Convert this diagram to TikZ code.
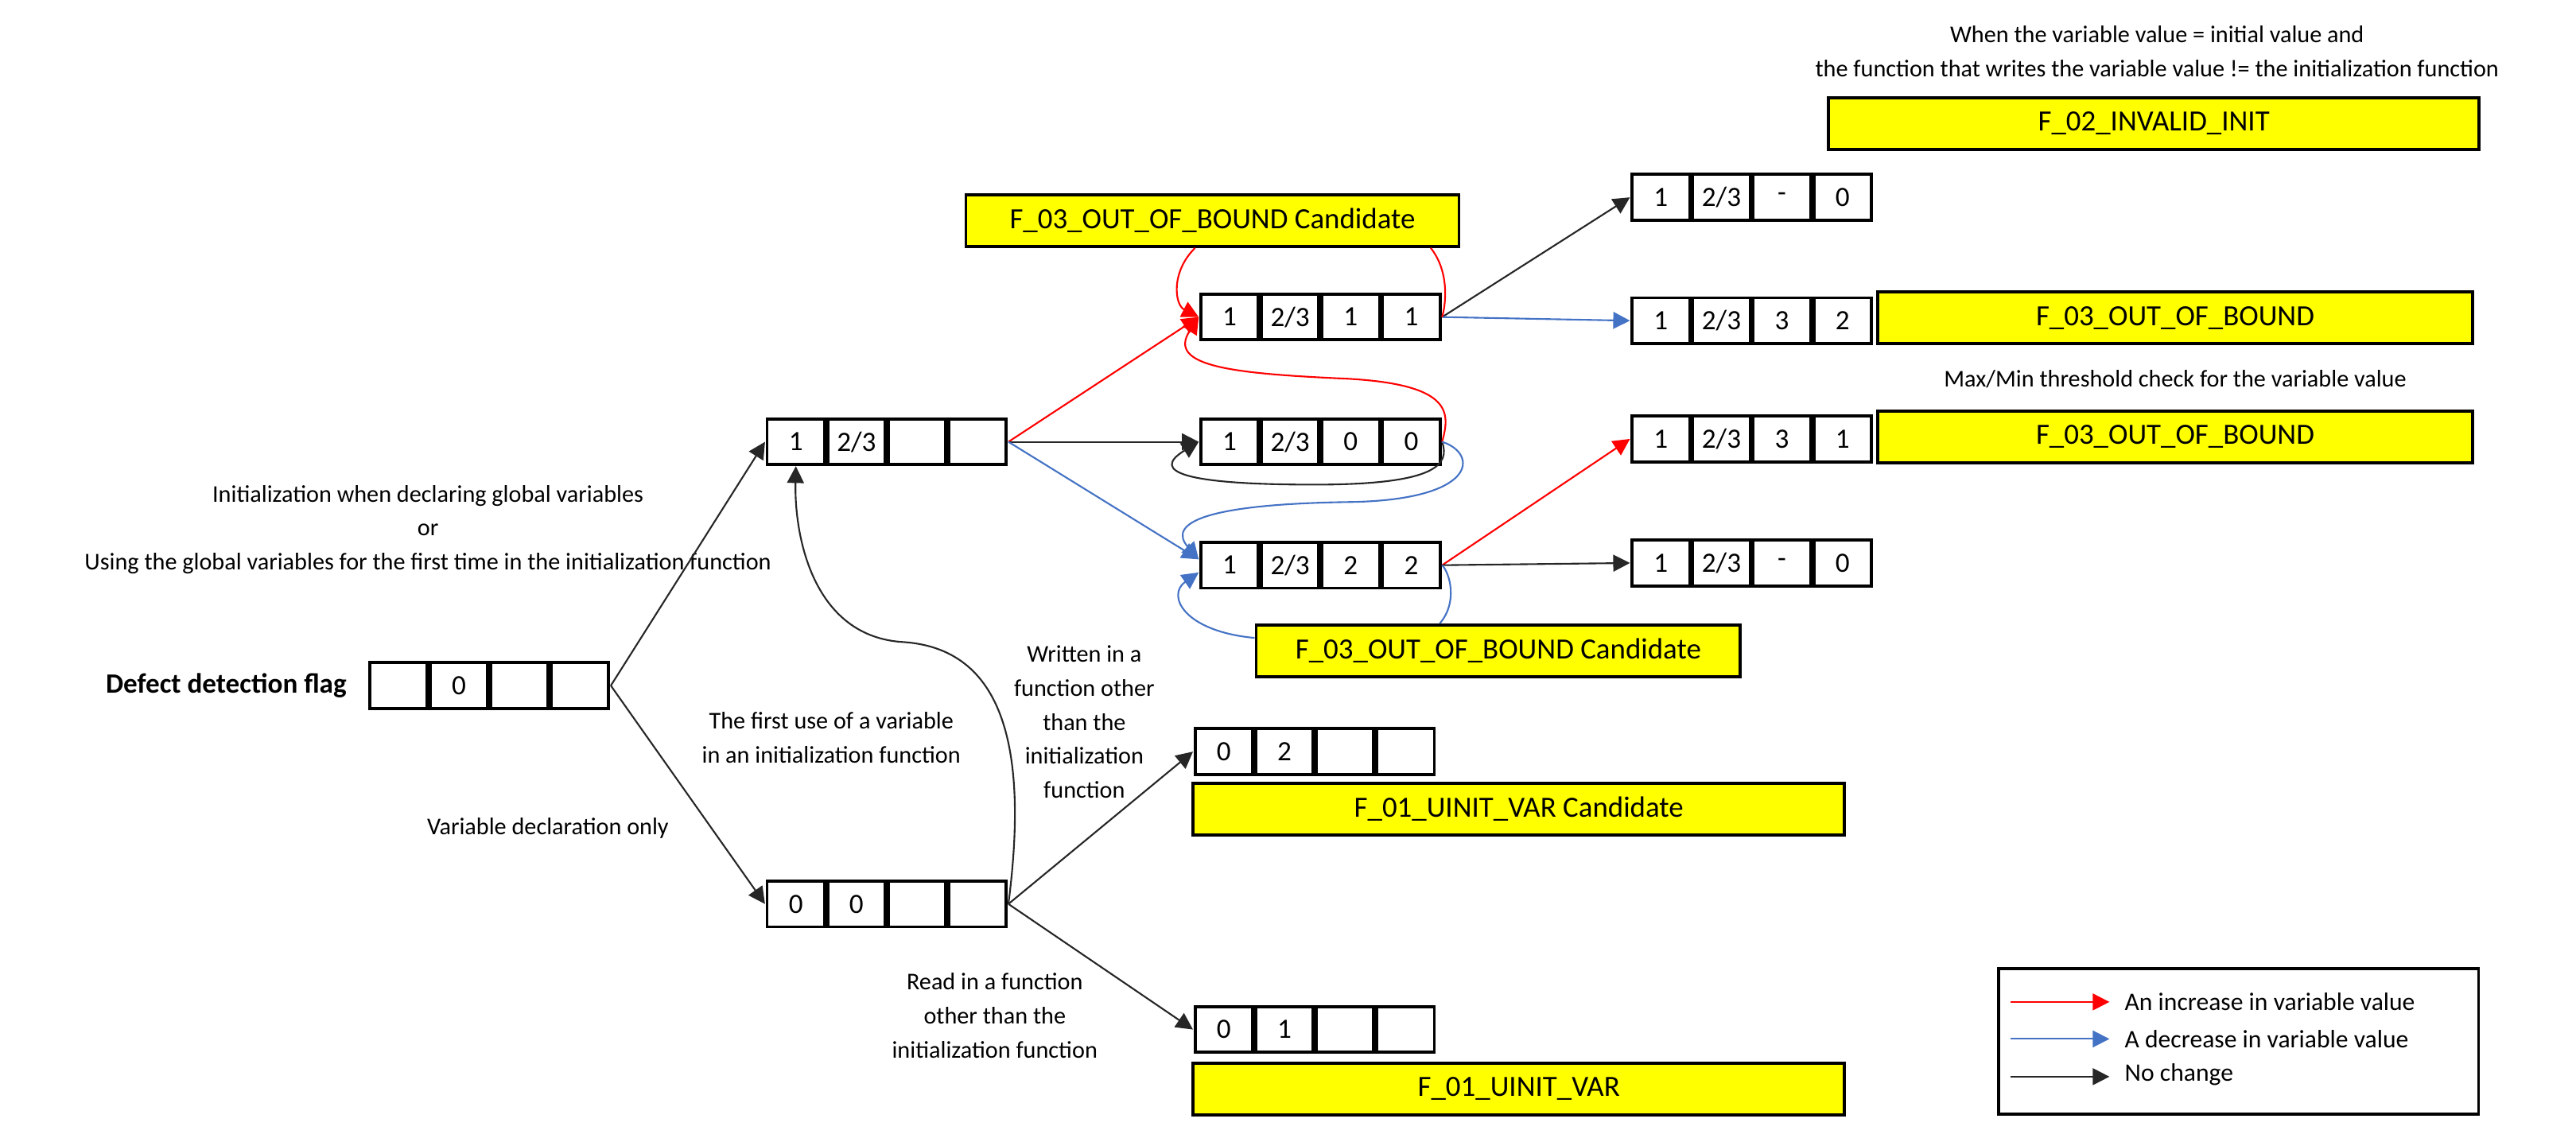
\documentclass[tikz,border=0pt]{standalone}
\usepackage{fontspec}
\setmainfont{Carlito}
\usetikzlibrary{arrows.meta,calc,fit}
\definecolor{myred}{RGB}{255,0,0}
\definecolor{myblue}{RGB}{68,114,196}
\definecolor{myyel}{RGB}{255,255,0}
\tikzset{
 cell/.style={draw,line width=1.1pt,minimum width=0.723cm,minimum height=0.575cm,inner sep=0pt,anchor=west,font=\fontsize{10}{12}\selectfont},
 ybox/.style={draw,line width=1.1pt,fill=myyel,minimum height=0.65cm,inner sep=0pt,font=\fontsize{10.5}{12}\selectfont},
 lbl/.style={align=center,font=\fontsize{8.6}{12.2}\selectfont,inner sep=0pt},
 tip/.style={-{Triangle[length=6pt,width=6pt]}},
 blk/.style={tip,line width=0.6pt,black!85},
 red/.style={tip,line width=0.6pt,myred},
 blu/.style={tip,line width=0.6pt,myblue},
 rl/.style={line width=0.6pt,myred},
 bl/.style={line width=0.6pt,myblue},
}
\newcommand\frow[6]{%
 \node[cell] (#1a) at (#2) {#3};
 \node[cell] (#1b) at (#1a.east) {#4};
 \node[cell] (#1c) at (#1b.east) {#5};
 \node[cell] (#1d) at (#1c.east) {#6};
 \node[fit=(#1a)(#1d),inner sep=0pt] (#1) {};}
\begin{document}
\begin{tikzpicture}[x=0.01033cm,y=-0.00912cm]
\useasboundingbox (0,0) rectangle (3136,1568);
% rows
\frow{Fl}{448,945}{}{0}{}{}
\node[anchor=east,font=\bfseries\fontsize{10}{12}\selectfont] (flagt) at (434,945) {Defect detection flag};
\frow{A}{932,609}{1}{2/3}{}{}
\frow{B}{932,1246}{0}{0}{}{}
\frow{C}{1460,437}{1}{2/3}{1}{1}
\frow{D}{1460,609}{1}{2/3}{0}{0}
\frow{E}{1460,779}{1}{2/3}{2}{2}
\frow{F}{1985,272}{1}{2/3}{-}{0}
\frow{G}{1985,442}{1}{2/3}{3}{2}
\frow{H}{1985,605}{1}{2/3}{3}{1}
\frow{I}{1985,776}{1}{2/3}{-}{0}
\frow{J}{1453,1036}{0}{2}{}{}
\frow{K}{1453,1419}{0}{1}{}{}
% yellow boxes
\node[ybox,minimum width=6.20cm] (Y1) at (1476,304) {F\_03\_OUT\_OF\_BOUND Candidate};
\node[ybox,minimum width=8.18cm] (Y2) at (2622,170) {F\_02\_INVALID\_INIT};
\node[ybox,minimum width=7.48cm] (Y3) at (2648,438) {F\_03\_OUT\_OF\_BOUND};
\node[ybox,minimum width=7.48cm] (Y4) at (2648,602) {F\_03\_OUT\_OF\_BOUND};
\node[ybox,minimum width=6.09cm] (Y5) at (1824,897) {F\_03\_OUT\_OF\_BOUND Candidate};
\node[ybox,minimum width=8.19cm] (Y6) at (1849,1115) {F\_01\_UINIT\_VAR Candidate};
\node[ybox,minimum width=8.19cm] (Y7) at (1849,1501) {F\_01\_UINIT\_VAR};
% labels
\node[lbl] (t1) at (2626,71) {When the variable value = initial value and\\the function that writes the variable value != the initialization function};
\node[lbl] (t2) at (2648,522) {Max/Min threshold check for the variable value};
\node[lbl] (t3) at (521,730) {Initialization when declaring global variables\\or\\Using the global variables for the first time in the initialization function};
\node[lbl] (t4) at (1012,1017) {The first use of a variable\\in an initialization function};
\node[lbl] (t5) at (1320,995) {Written in a\\function other\\than the\\initialization\\function};
\node[lbl] (t6) at (667,1142) {Variable declaration only};
\node[lbl] (t7) at (1211,1400) {Read in a function\\other than the\\initialization function};
% main arrows
\draw[blk] (Fl.east) -- (A.west);
\draw[blk] (Fl.east) -- (B.west);
\draw[red] (A.east) -- (C.west);
\draw[blk] (A.east) -- (D.west);
\draw[blu] (A.east) -- ($(E.west)+(0,-8)$);
\draw[blk] (B.east) -- (J.west);
\draw[blk] (B.east) -- (K.west);
\draw[blk] (B.east) .. controls (1250,1050) and (1230,895) .. (1100,885) .. controls (990,878) and (967,740) .. (Aa.south);
\draw[blk] (C.east) -- (F.west);
\draw[blu] (C.east) -- (G.west);
\draw[red] (E.east) -- (H.west);
\draw[blk] (E.east) -- (I.west);
% loops
\coordinate (y1l) at ($(Y1.south west)!0.465!(Y1.south east)$);
\coordinate (y1r) at ($(Y1.south west)!0.94!(Y1.south east)$);
\draw[red] (y1l) .. controls (1425,375) and (1430,420) .. (C.west);
\draw[rl] (y1r) .. controls (1765,375) and (1760,420) .. (C.east);
\draw[red] (D.east) .. controls (1765,570) and (1770,530) .. (1640,522) .. controls (1500,515) and (1420,505) .. (C.west);
\draw[blk] (D.east) .. controls (1765,640) and (1750,668) .. (1600,668) .. controls (1440,668) and (1400,650) .. (D.west);
\draw[blu] (D.east) .. controls (1800,625) and (1800,690) .. (1640,692) .. controls (1470,695) and (1420,720) .. ($(E.west)+(0,-8)$);
\coordinate (y5l) at ($(Y5.north west)+(0,20)$);
\coordinate (y5t) at ($(Y5.north west)!0.38!(Y5.north east)$);
\draw[blu] (y5l) .. controls (1440,870) and (1420,820) .. ($(E.west)+(0,10)$);
\draw[bl] (y5t) .. controls (1775,830) and (1765,790) .. (E.east);
% legend
\node[draw,line width=1.1pt,minimum width=6.04cm,minimum height=1.83cm,inner sep=0pt] (leg) at (2725,1435) {};
\coordinate (l1a) at (2448,1381); \coordinate (l1b) at (2568,1381);
\coordinate (l2a) at (2448,1432); \coordinate (l2b) at (2568,1432);
\coordinate (l3a) at (2448,1484); \coordinate (l3b) at (2568,1484);
\draw[red] (l1a) -- (l1b);
\draw[blu] (l2a) -- (l2b);
\draw[blk] (l3a) -- (l3b);
\node[lbl,anchor=west,font=\fontsize{9}{11}\selectfont] (lt1) at (2586,1381) {An increase in variable value};
\node[lbl,anchor=west,font=\fontsize{9}{11}\selectfont] (lt2) at (2586,1432) {A decrease in variable value};
\node[lbl,anchor=west,font=\fontsize{9}{11}\selectfont] (lt3) at (2586,1481) {No change};
\end{tikzpicture}
\end{document}
